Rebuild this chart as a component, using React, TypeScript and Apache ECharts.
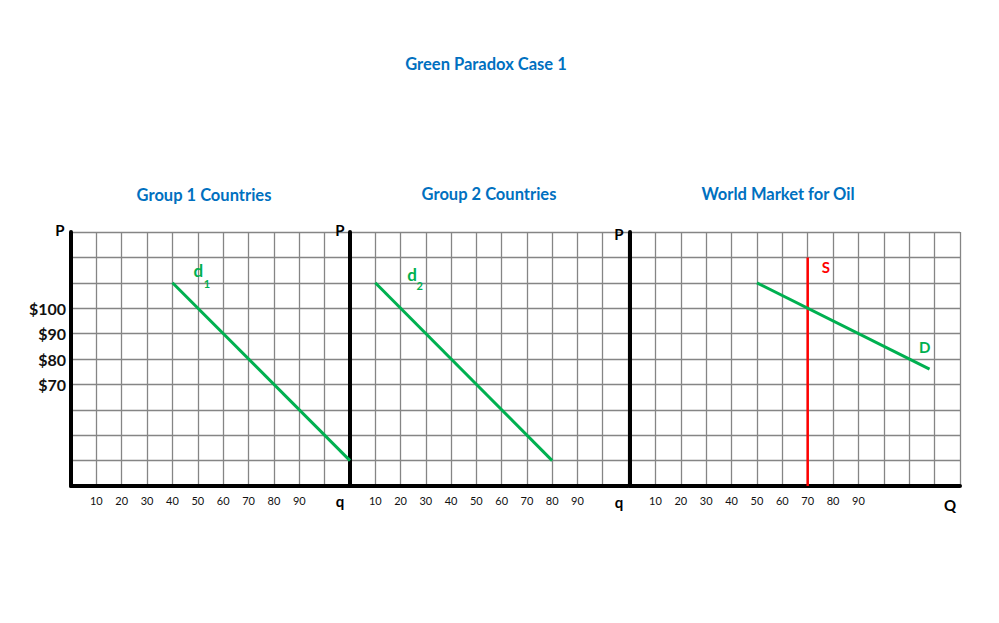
import React, { useEffect, useRef } from "react";
import * as echarts from "echarts";

// Quantity ticks (shown) and price ticks (shown only on Group 1 panel)
const qTickLabels = [10, 20, 30, 40, 50, 60, 70, 80, 90];
const priceTickLabels = [70, 80, 90, 100];

// Demand lines [q, price]
const d1Points = [[40, 110], [110, 40]];
const d2Points = [[10, 110], [80, 40]];
const worldSupply = [[70, 120], [70, 30]];
const worldDemand = [[50, 110], [118, 76]];

const panelTitles = ["Group 1 Countries", "Group 2 Countries", "World Market for Oil"];
const mainTitle = "Green Paradox Case 1";

const BLUE = "#0070C0";
const GREEN = "#00B050";
const RED = "#FF0000";
const GRIDC = "#858585";
const FONT = "Lato, 'Open Sans', 'Liberation Sans', sans-serif";

export default function App() {
  const ref = useRef<HTMLDivElement>(null);
  useEffect(() => {
    if (!ref.current) return;
    const chart = echarts.init(ref.current, null, { renderer: "svg" });

    const grids = [
      { left: 71, top: 232, width: 279, height: 254 },
      { left: 350, top: 232, width: 278, height: 254 },
      { left: 630, top: 232, width: 330, height: 254 },
    ];
    const xMax = [110, 110, 130];

    const xAxis = grids.map((_, i) => ({
      type: "value",
      gridIndex: i,
      min: 0,
      max: xMax[i],
      interval: 10,
      axisLine: { show: true, onZero: false, lineStyle: { color: "#000", width: 4 } },
      axisTick: { show: false },
      axisLabel: {
        fontFamily: FONT,
        fontSize: 11,
        color: "#111",
        margin: 9,
        formatter: (v: number) => (qTickLabels.includes(v) ? String(v) : ""),
      },
      splitLine: {
        show: true,
        showMinLine: false,
        showMaxLine: i === 0 ? false : true,
        lineStyle: { color: GRIDC, width: 1.3 },
      },
      z: 3,
    }));

    const yAxis = grids.map((_, i) => ({
      type: "value",
      gridIndex: i,
      min: 30,
      max: 130,
      interval: 10,
      axisLine: { show: true, onZero: false, lineStyle: { color: "#000", width: 4 } },
      axisTick: { show: false },
      axisLabel: {
        show: i === 0,
        fontFamily: FONT,
        fontSize: 16,
        fontWeight: "bold",
        color: "#111",
        margin: 5,
        formatter: (v: number) => (priceTickLabels.includes(v) ? "$" + v : ""),
      },
      splitLine: {
        show: true,
        showMinLine: false,
        lineStyle: { color: GRIDC, width: 1.3 },
      },
      z: 3,
    }));

    const labelPoint = (coord: number[], text: string, color: string, size: number) => ({
      coord,
      symbol: "circle",
      symbolSize: 1,
      itemStyle: { color: "rgba(0,0,0,0)" },
      label: {
        show: true,
        position: "inside",
        formatter: text,
        color,
        fontFamily: FONT,
        fontWeight: "bold",
        fontSize: size,
      },
    });

    const lineSeries = (
      name: string,
      idx: number,
      data: number[][],
      color: string,
      width: number,
      labels: any[]
    ) => ({
      type: "line",
      name,
      xAxisIndex: idx,
      yAxisIndex: idx,
      data,
      symbol: "none",
      lineStyle: { color, width },
      itemStyle: { color },
      z: 5,
      markPoint: { silent: true, data: labels },
    });

    const series = [
      lineSeries("d1", 0, d1Points, GREEN, 3, [
        labelPoint([50.2, 114.8], "d", GREEN, 17),
        labelPoint([53.6, 109.9], "1", GREEN, 11),
      ]),
      lineSeries("d2", 1, d2Points, GREEN, 3, [
        labelPoint([24.6, 113.3], "d", GREEN, 17),
        labelPoint([27.6, 109.1], "2", GREEN, 11),
      ]),
      lineSeries("S", 2, worldSupply, RED, 2.5, [labelPoint([77.2, 116.2], "S", RED, 15)]),
      lineSeries("D", 2, worldDemand, GREEN, 3, [labelPoint([116.1, 84.7], "D", GREEN, 15)]),
    ];

    const txt = (x: number, y: number, text: string, size: number, color: string, align = "center") => ({
      type: "text",
      x,
      y,
      style: {
        text,
        fill: color,
        font: `bold ${size}px ${FONT}`,
        textAlign: align,
        textVerticalAlign: "middle",
      },
      z: 10,
    });

    const graphic = [
      txt(486, 64, mainTitle, 16.5, BLUE),
      txt(204, 195, panelTitles[0], 16.5, BLUE),
      txt(489, 194, panelTitles[1], 16.5, BLUE),
      txt(778, 194, panelTitles[2], 16.5, BLUE),
      txt(60, 230, "P", 15, "#000"),
      txt(340, 230, "P", 15, "#000"),
      txt(619, 234, "P", 15, "#000"),
      txt(340, 501, "q", 15, "#000"),
      txt(619, 502, "q", 15, "#000"),
      txt(950, 505, "Q", 15, "#000"),
    ];

    chart.setOption({
      animation: false,
      backgroundColor: "#ffffff",
      grid: grids.map((g) => ({ ...g, containLabel: false })),
      xAxis,
      yAxis,
      series,
      graphic,
    });

    return () => chart.dispose();
  }, []);

  return (
    <div
      ref={ref}
      style={{ position: "fixed", left: 0, top: 0, width: 999, height: 623, background: "#fff" }}
    />
  );
}
